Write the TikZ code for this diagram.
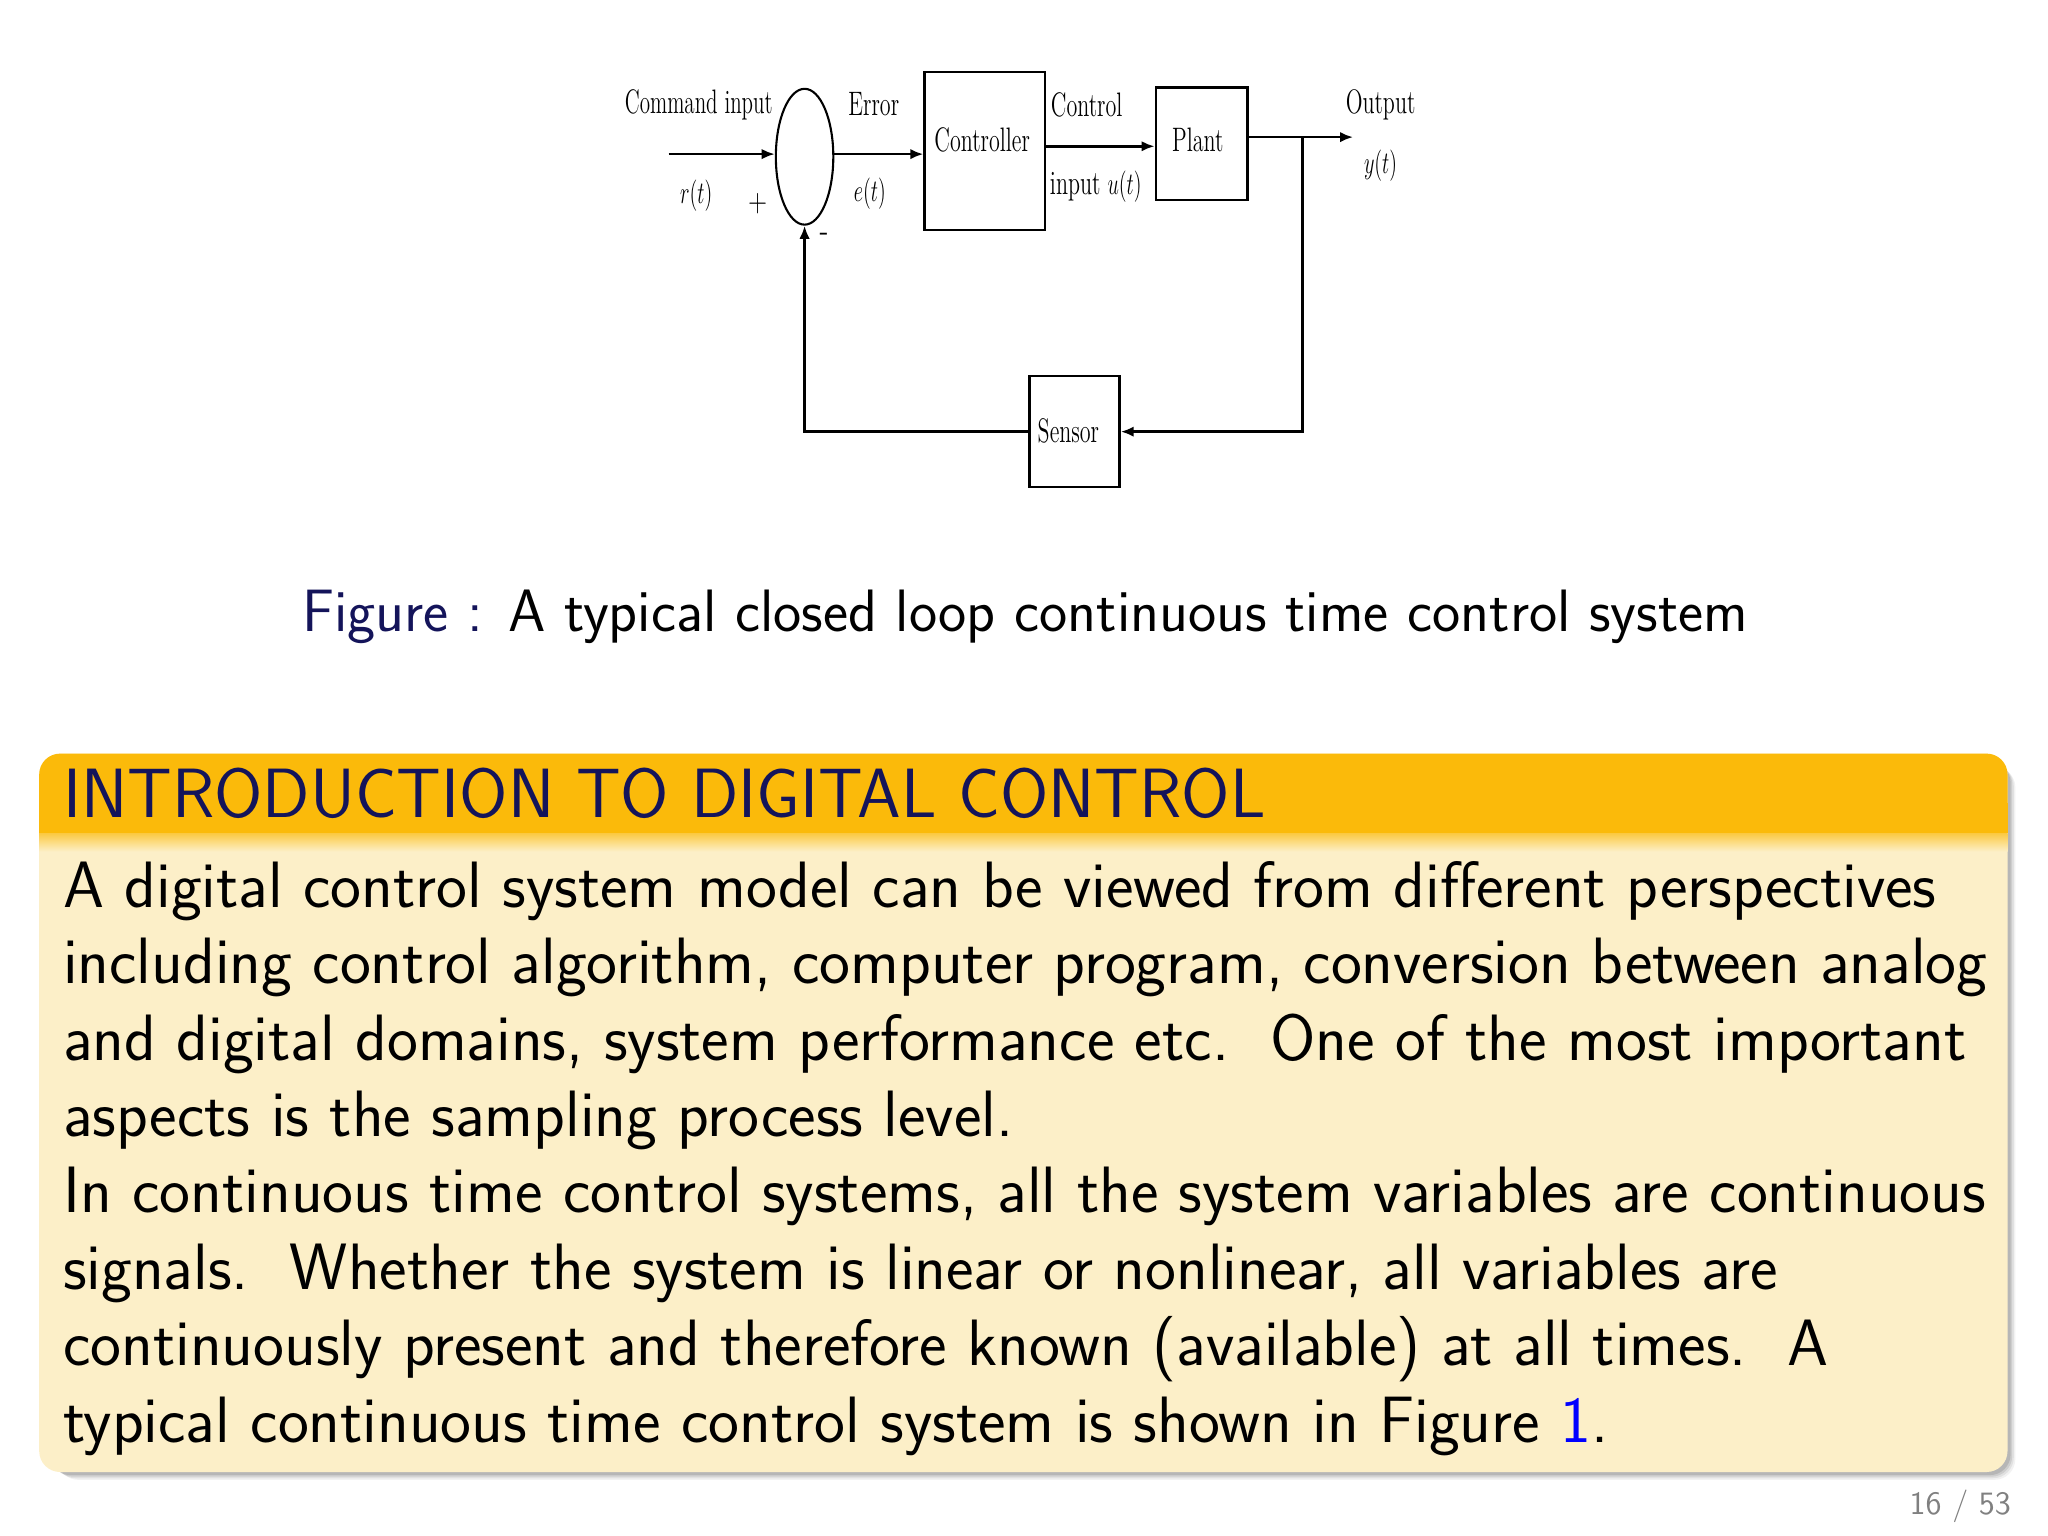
\documentclass[tikz,border=0pt]{standalone}
\usetikzlibrary{arrows.meta,shapes.geometric}
\definecolor{orng}{RGB}{251,186,10}
\definecolor{bodyc}{RGB}{252,239,200}
\definecolor{figblue}{RGB}{20,20,90}
\begin{document}
\begin{tikzpicture}[x=0.5pt,y=-0.5pt,
  lab/.style={inner sep=0pt,font=\fontsize{13}{15}\selectfont},
  con/.style={line width=1pt},
  arr/.style={con,-{Latex[length=5pt,width=4pt]}},
  body/.style={anchor=west,inner sep=0pt,font=\sffamily\fontsize{25.1}{29.25}\selectfont}]
\useasboundingbox (0,0) rectangle (1568,1176);
% diagram
\node[draw,line width=0.8pt,ellipse,minimum width=22pt,minimum height=52pt,inner sep=0pt] (sum) at (616,120) {};
\node[draw,line width=1pt,minimum width=46pt,minimum height=60.5pt] (ctrl) at (754,115.5) {};
\node[draw,line width=1pt,minimum width=35pt,minimum height=43pt] (plant) at (920,110) {};
\node[draw,line width=1pt,minimum width=34.5pt,minimum height=42.5pt] (sens) at (822.5,330.5) {};
\node[lab] at (752,107) {\scalebox{0.65}[1]{Controller}};
\node[lab] at (917,107) {\scalebox{0.65}[1]{Plant}};
\node[lab] at (818,330) {\scalebox{0.65}[1]{Sensor}};
\coordinate (in) at (512,118);
\coordinate (out) at (1036,105);
\coordinate (br) at (997,105);
\draw[arr] (in) -- (sum.west |- in);
\draw[arr] (sum.east |- in) -- (ctrl.west |- in);
\draw[arr] (ctrl.east |- 0,112) -- (plant.west |- 0,112);
\draw[arr] (plant.east |- out) -- (out);
\draw[arr] (br) |- (sens.east);
\draw[arr] (sens.west) -| (sum.south);
\node[lab] at (535,80) {\scalebox{0.62}[1]{Command input}};
\node[lab] at (533,150) {\scalebox{0.65}[1]{$r(t)$}};
\node[lab] at (580,156) {\scalebox{0.8}[1]{$+$}};
\node[lab] at (631,182) {\scalebox{0.8}[1]{-}};
\node[lab] at (669,80) {\scalebox{0.65}[1]{Error}};
\node[lab] at (666,148) {\scalebox{0.65}[1]{$e(t)$}};
\node[lab] at (832,80) {\scalebox{0.65}[1]{Control}};
\node[lab] at (839,143) {\scalebox{0.65}[1]{input $u(t)$}};
\node[lab] at (1057,80) {\scalebox{0.65}[1]{Output}};
\node[lab] at (1057,127) {\scalebox{0.65}[1]{$y(t)$}};
% caption
\node[anchor=west,inner sep=0pt,font=\sffamily\fontsize{22.9}{27}\selectfont] (cap) at (231,472) {\textcolor{figblue}{Figure :} A typical closed loop continuous time control system};
% block shadow
\foreach \o/\op in {10/0.05,8/0.07,6/0.09,4/0.11}
  \fill[black,opacity=\op,rounded corners=8pt] (34+\o,581+\o*0.6) rectangle (1537+\o*0.6,1127+\o*0.6);
\fill[bodyc,rounded corners=8pt] (30,577) rectangle (1537,1127);
\fill[orng,rounded corners=8pt] (30,577) rectangle (1537,638);
\fill[orng] (30,615) rectangle (1537,638);
\shade[top color=orng!70!bodyc,bottom color=bodyc] (30,638) rectangle (1537,652);
\node[anchor=west,inner sep=0pt,font=\sffamily\fontsize{26.7}{30}\selectfont,text=figblue] (ttl) at (48,607) {INTRODUCTION TO DIGITAL CONTROL};
\node[body,anchor=north west,align=left] (txt) at (48,659) {A digital control system model can be viewed from different perspectives\\
including control algorithm, computer program, conversion between analog\\
and digital domains, system performance etc.\ \ One of the most important\\
aspects is the sampling process level.\\
In continuous time control systems, all the system variables are continuous\\
signals.\ \ Whether the system is linear or nonlinear, all variables are\\
continuously present and therefore known (available) at all times.\ \ A\\
typical continuous time control system is shown in Figure \textcolor{blue}{1}.};
\node[anchor=east,inner sep=0pt,font=\sffamily\fontsize{12.5}{14}\selectfont,text=gray] (pg) at (1540,1153) {16 / 53};
\end{tikzpicture}
\end{document}
